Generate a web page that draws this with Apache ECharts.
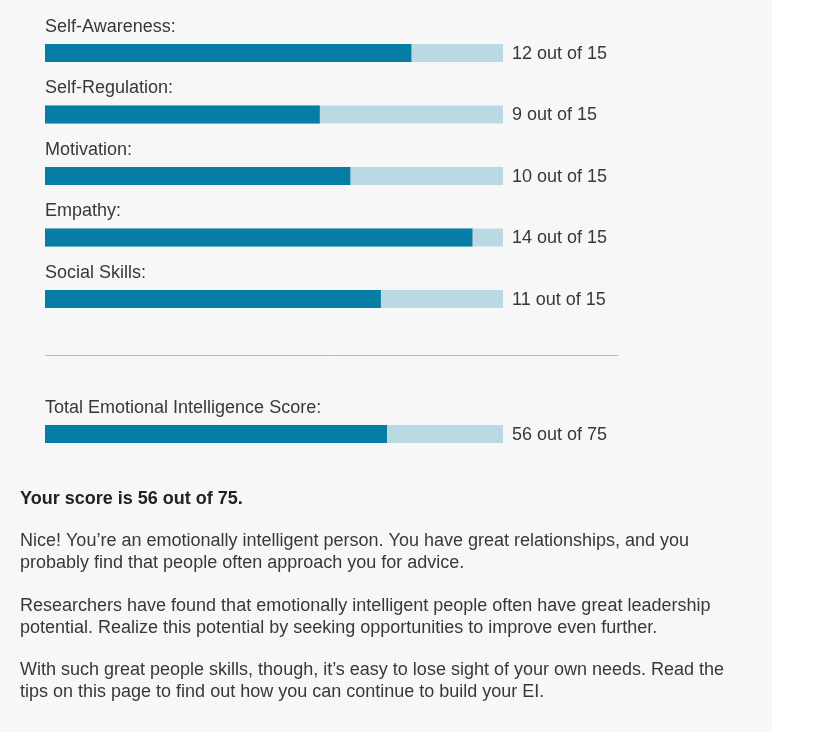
<!DOCTYPE html>
<html><head><meta charset="utf-8">
<script src="https://cdn.jsdelivr.net/npm/echarts@6/dist/echarts.min.js"></script>
<style>html,body{margin:0;padding:0;background:#fff}#c{width:816px;height:732px}</style>
</head><body><div id="c"></div>
<script>
const categories = ['Self-Awareness:', 'Self-Regulation:', 'Motivation:', 'Empathy:', 'Social Skills:'];
const scores = [12, 9, 10, 14, 11];
const maxScore = 15;
const totalCategory = ['Total Emotional Intelligence Score:'];
const totalScores = [56];
const totalMax = 75;
const summaryTitle = 'Your score is 56 out of 75.';
const paragraphs = [
  ['Nice! You\u2019re an emotionally intelligent person. You have great relationships, and you',
   'probably find that people often approach you for advice.'],
  ['Researchers have found that emotionally intelligent people often have great leadership',
   'potential. Realize this potential by seeking opportunities to improve even further.'],
  ['With such great people skills, though, it\u2019s easy to lose sight of your own needs. Read the',
   'tips on this page to find out how you can continue to build your EI.']
];

const FONT = "'Liberation Sans', Arial, sans-serif";
const TXT = '#383838';
const DARK = '#067da4';
const LIGHT = '#b9d9e3';

const chart = echarts.init(document.getElementById('c'), null, {renderer: 'canvas'});

const graphics = [
  {type: 'rect', z: -10, shape: {x: 0, y: 0, width: 772, height: 732}, style: {fill: '#f7f7f7'}, silent: true},
  {type: 'line', shape: {x1: 45, y1: 355.5, x2: 618, y2: 355.5}, style: {stroke: '#b8b8b8', lineWidth: 1}},
  {type: 'text', x: 20, y: 499, style: {text: summaryTitle, fill: '#222', font: 'bold 18px ' + FONT, verticalAlign: 'middle'}}
];
const paraY = [541, 606, 670];
paragraphs.forEach((p, i) => {
  p.forEach((line, j) => {
    graphics.push({type: 'text', x: 20, y: paraY[i] + j * 22, style: {text: line, fill: TXT, font: '18px ' + FONT, verticalAlign: 'middle'}});
  });
});

function barSeries(axisIdx, cats, vals, max) {
  return [
    {
      type: 'bar', xAxisIndex: axisIdx, yAxisIndex: axisIdx,
      data: vals.map(() => max), barWidth: 18, barGap: '-100%',
      itemStyle: {color: LIGHT}, silent: true,
      label: {show: true, position: 'right', distance: 9, offset: [0, 1], color: TXT, fontSize: 18, fontFamily: FONT,
        formatter: p => vals[p.dataIndex] + ' out of ' + max}
    },
    {
      type: 'bar', xAxisIndex: axisIdx, yAxisIndex: axisIdx,
      data: vals, barWidth: 18, barGap: '-100%',
      itemStyle: {color: DARK}, silent: true,
      label: {show: true, position: [0, -17], align: 'left', verticalAlign: 'middle', color: TXT, fontSize: 18, fontFamily: FONT,
        formatter: p => cats[p.dataIndex]}
    }
  ];
}

chart.setOption({
  backgroundColor: '#ffffff',
  animation: false,
  grid: [
    {left: 45, width: 458, top: 22.25, height: 307.5},
    {left: 45, width: 458, top: 404, height: 60}
  ],
  xAxis: [
    {gridIndex: 0, type: 'value', min: 0, max: maxScore, show: false},
    {gridIndex: 1, type: 'value', min: 0, max: totalMax, show: false}
  ],
  yAxis: [
    {gridIndex: 0, type: 'category', data: categories, inverse: true, show: false},
    {gridIndex: 1, type: 'category', data: totalCategory, inverse: true, show: false}
  ],
  series: [...barSeries(0, categories, scores, maxScore), ...barSeries(1, totalCategory, totalScores, totalMax)],
  graphic: graphics
});
</script></body></html>
